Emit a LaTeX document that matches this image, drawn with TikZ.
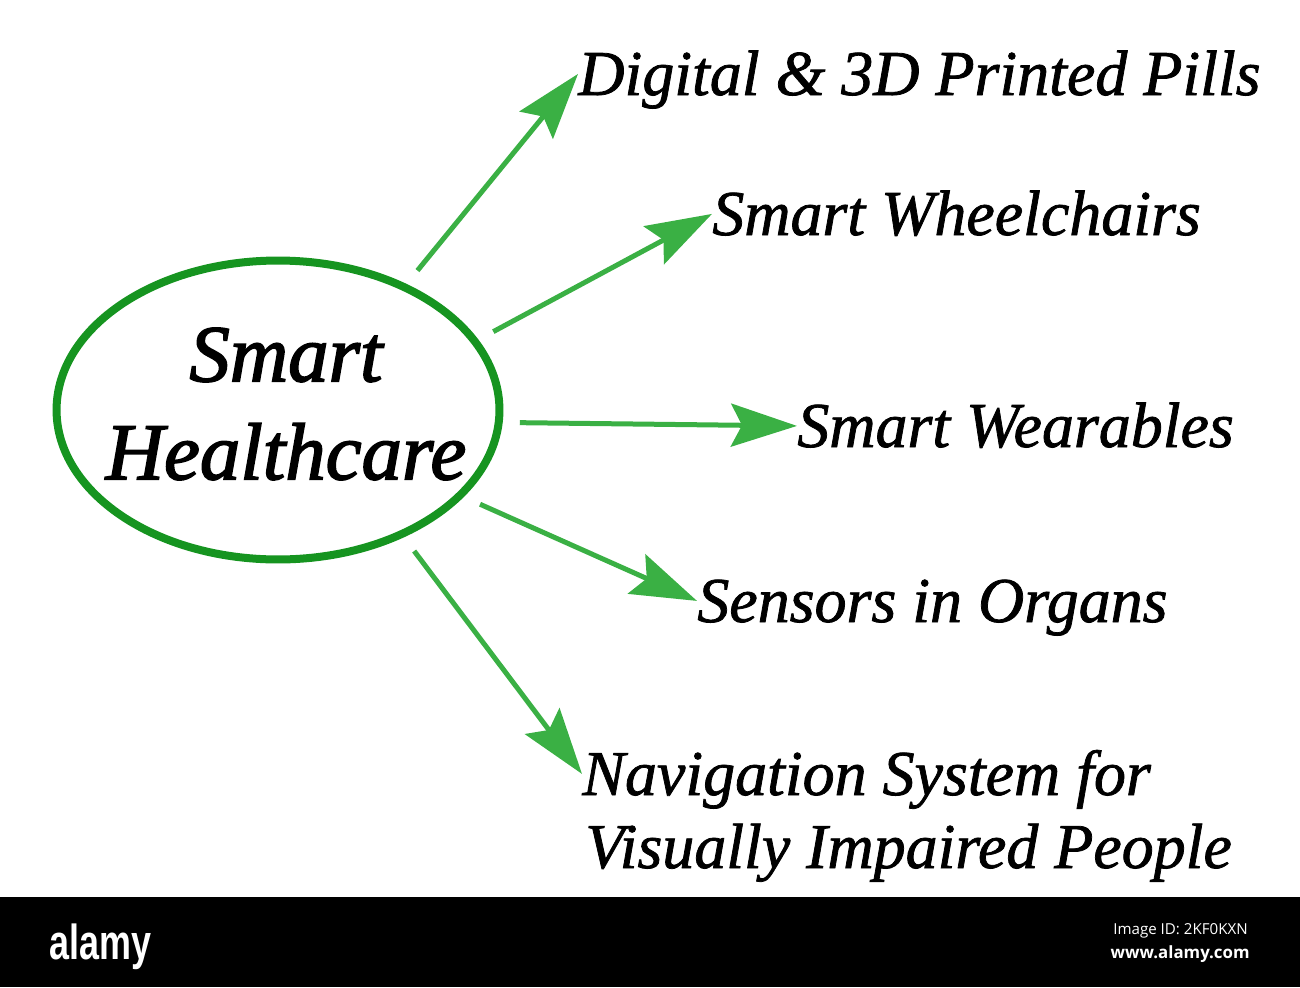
\documentclass[tikz,border=0pt]{standalone}
\usepackage{fontspec}
\setmainfont{Liberation Serif}
\newfontfamily\topicfont{Liberation Serif}[FakeBold=1.2]
\newfontfamily\hubfont{Liberation Serif}[FakeBold=2]
\newfontfamily\logofont{Liberation Sans}[FakeStretch=0.73]
\newfontfamily\idfont{Open Sans}
\usetikzlibrary{arrows.meta,shapes.geometric}
\definecolor{hubgreen}{RGB}{22,148,32}
\definecolor{arrowgreen}{RGB}{58,176,68}

\begin{document}
\begin{tikzpicture}[x=0.02cm,y=-0.02cm,
  topic/.style={anchor=base west, inner sep=0pt, text height=24pt, text depth=0pt,
    font=\topicfont\fontsize{36.4}{41.5}\selectfont\itshape},
  link/.style={arrowgreen, line width=0.1cm,
    -{Stealth[length=1.32cm,width=0.86cm,inset=0.22cm]}}]
  \useasboundingbox (0,0) rectangle (1300,987);

  \node (hub) at (278,410) [ellipse, draw=hubgreen, line width=0.16cm,
    minimum width=8.86cm, minimum height=5.98cm, outer sep=0.42cm] {};
  \node (hubtext) at (286,404) [align=center,
    font=\hubfont\fontsize{46}{55.8}\selectfont\itshape] {Smart\\Healthcare};

  \node (pills) at (578,95) [topic] {Digital \& 3D Printed Pills};
  \node (wheel) at (712,235) [topic] {Smart Wheelchairs};
  \node (wear) at (797,447) [topic] {Smart Wearables};
  \node (organs) at (697,622) [topic] {Sensors in Organs};
  \node (nav) at (582,795) [topic] {Navigation System for};
  \node (impaired) at (585,868) [topic] {Visually Impaired People};

  \draw[link] (hub.45.5) -- (pills.west);
  \draw[link] (hub.20.7) -- (wheel.west);
  \draw[link] (hub.-3) -- (wear.west);
  \draw[link] (hub.-25.3) -- (organs.west);
  \draw[link] (hub.-46.3) -- (nav.west);

  \fill[black] (0,897) rectangle (1300,987);
  \node (logo) at (49,959) [anchor=base west, inner sep=0pt, text=white,
    font=\logofont\bfseries\fontsize{28}{28}\selectfont] {alamy};
  \node (imageid) at (1248,934) [anchor=base east, inner sep=0pt, text=white,
    font=\idfont\fontsize{8.6}{8.6}\selectfont] {Image ID: 2KF0KXN};
  \node (site) at (1250,958) [anchor=base east, inner sep=0pt, text=white,
    font=\idfont\bfseries\fontsize{9.6}{9.6}\selectfont] {www.alamy.com};
\end{tikzpicture}
\end{document}
